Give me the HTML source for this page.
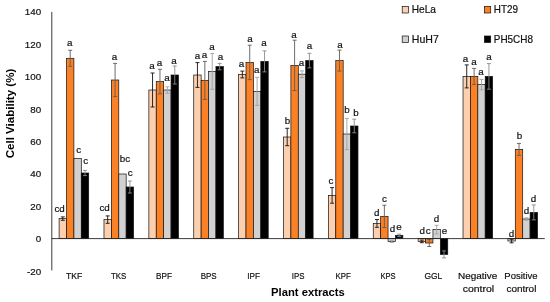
<!DOCTYPE html>
<html lang="en"><head><meta charset="utf-8"><title>Cell viability of plant extracts</title>
<style>
html,body{margin:0;padding:0;background:#fff;}
body{width:550px;height:302px;overflow:hidden;}
svg{display:block;font-family:"Liberation Sans",sans-serif;}
</style></head><body>
<svg width="550" height="302" viewBox="0 0 550 302">
<rect width="550" height="302" fill="#fff"/>
<g>
<g stroke="#111" stroke-width="0.7">
<rect x="59.10" y="218.60" width="7.40" height="20.00" fill="#FCD0AF"/>
<rect x="66.50" y="58.30" width="7.40" height="180.30" fill="#FB8124"/>
<rect x="73.90" y="158.60" width="7.40" height="80.00" fill="#D2D0D0"/>
<rect x="81.30" y="173.00" width="7.40" height="65.60" fill="#000000"/>
<rect x="103.98" y="219.60" width="7.40" height="19.00" fill="#FCD0AF"/>
<rect x="111.38" y="80.00" width="7.40" height="158.60" fill="#FB8124"/>
<rect x="118.78" y="174.00" width="7.40" height="64.60" fill="#D2D0D0"/>
<rect x="126.18" y="187.00" width="7.40" height="51.60" fill="#000000"/>
<rect x="148.86" y="90.00" width="7.40" height="148.60" fill="#FCD0AF"/>
<rect x="156.26" y="81.60" width="7.40" height="157.00" fill="#FB8124"/>
<rect x="163.66" y="90.00" width="7.40" height="148.60" fill="#D2D0D0"/>
<rect x="171.06" y="75.00" width="7.40" height="163.60" fill="#000000"/>
<rect x="193.74" y="75.00" width="7.40" height="163.60" fill="#FCD0AF"/>
<rect x="201.14" y="80.40" width="7.40" height="158.20" fill="#FB8124"/>
<rect x="208.54" y="71.40" width="7.40" height="167.20" fill="#D2D0D0"/>
<rect x="215.94" y="66.60" width="7.40" height="172.00" fill="#000000"/>
<rect x="238.62" y="74.50" width="7.40" height="164.10" fill="#FCD0AF"/>
<rect x="246.02" y="62.40" width="7.40" height="176.20" fill="#FB8124"/>
<rect x="253.42" y="91.40" width="7.40" height="147.20" fill="#D2D0D0"/>
<rect x="260.82" y="61.40" width="7.40" height="177.20" fill="#000000"/>
<rect x="283.50" y="137.00" width="7.40" height="101.60" fill="#FCD0AF"/>
<rect x="290.90" y="65.40" width="7.40" height="173.20" fill="#FB8124"/>
<rect x="298.30" y="74.20" width="7.40" height="164.40" fill="#D2D0D0"/>
<rect x="305.70" y="60.60" width="7.40" height="178.00" fill="#000000"/>
<rect x="328.38" y="195.40" width="7.40" height="43.20" fill="#FCD0AF"/>
<rect x="335.78" y="60.60" width="7.40" height="178.00" fill="#FB8124"/>
<rect x="343.18" y="134.00" width="7.40" height="104.60" fill="#D2D0D0"/>
<rect x="350.58" y="126.00" width="7.40" height="112.60" fill="#000000"/>
<rect x="373.26" y="223.40" width="7.40" height="15.20" fill="#FCD0AF"/>
<rect x="380.66" y="216.40" width="7.40" height="22.20" fill="#FB8124"/>
<rect x="388.06" y="238.60" width="7.40" height="3.00" fill="#D2D0D0"/>
<rect x="395.46" y="235.40" width="7.40" height="3.20" fill="#000000"/>
<rect x="418.14" y="238.60" width="7.40" height="2.80" fill="#FCD0AF"/>
<rect x="425.54" y="238.60" width="7.40" height="4.40" fill="#FB8124"/>
<rect x="432.94" y="229.60" width="7.40" height="9.00" fill="#D2D0D0"/>
<rect x="440.34" y="238.60" width="7.40" height="15.80" fill="#000000"/>
<rect x="463.02" y="76.40" width="7.40" height="162.20" fill="#FCD0AF"/>
<rect x="470.42" y="76.40" width="7.40" height="162.20" fill="#FB8124"/>
<rect x="477.82" y="84.60" width="7.40" height="154.00" fill="#D2D0D0"/>
<rect x="485.22" y="76.40" width="7.40" height="162.20" fill="#000000"/>
<rect x="507.90" y="238.60" width="7.40" height="2.40" fill="#FCD0AF"/>
<rect x="515.30" y="149.40" width="7.40" height="89.20" fill="#FB8124"/>
<rect x="522.70" y="219.00" width="7.40" height="19.60" fill="#D2D0D0"/>
<rect x="530.10" y="212.40" width="7.40" height="26.20" fill="#000000"/>
</g>
<path d="M62.80 216.90V220.30M60.80 216.90h4M60.80 220.30h4" stroke="#111" stroke-width="0.9" fill="none"/>
<path d="M70.20 50.30V66.30M68.20 50.30h4M68.20 66.30h4" stroke="#5c5c5c" stroke-width="0.9" fill="none"/>
<path d="M85.00 170.40V175.60M83.00 170.40h4M83.00 175.60h4" stroke="#8c8c8c" stroke-width="0.9" fill="none"/>
<path d="M107.68 215.90V223.30M105.68 215.90h4M105.68 223.30h4" stroke="#111" stroke-width="0.9" fill="none"/>
<path d="M115.08 63.40V96.60M113.08 63.40h4M113.08 96.60h4" stroke="#5c5c5c" stroke-width="0.9" fill="none"/>
<path d="M129.88 181.00V193.00M127.88 181.00h4M127.88 193.00h4" stroke="#8c8c8c" stroke-width="0.9" fill="none"/>
<path d="M152.56 73.00V107.00M150.56 73.00h4M150.56 107.00h4" stroke="#111" stroke-width="0.9" fill="none"/>
<path d="M159.96 69.30V93.90M157.96 69.30h4M157.96 93.90h4" stroke="#5c5c5c" stroke-width="0.9" fill="none"/>
<path d="M167.36 86.80V93.20M165.36 86.80h4M165.36 93.20h4" stroke="#a0a0a0" stroke-width="0.9" fill="none"/>
<path d="M174.76 66.00V84.00M172.76 66.00h4M172.76 84.00h4" stroke="#8c8c8c" stroke-width="0.9" fill="none"/>
<path d="M197.44 62.60V87.40M195.44 62.60h4M195.44 87.40h4" stroke="#111" stroke-width="0.9" fill="none"/>
<path d="M204.84 61.40V99.40M202.84 61.40h4M202.84 99.40h4" stroke="#5c5c5c" stroke-width="0.9" fill="none"/>
<path d="M212.24 53.50V89.30M210.24 53.50h4M210.24 89.30h4" stroke="#a0a0a0" stroke-width="0.9" fill="none"/>
<path d="M219.64 63.40V69.80M217.64 63.40h4M217.64 69.80h4" stroke="#8c8c8c" stroke-width="0.9" fill="none"/>
<path d="M242.32 71.10V77.90M240.32 71.10h4M240.32 77.90h4" stroke="#111" stroke-width="0.9" fill="none"/>
<path d="M249.72 45.20V79.60M247.72 45.20h4M247.72 79.60h4" stroke="#5c5c5c" stroke-width="0.9" fill="none"/>
<path d="M257.12 77.40V105.40M255.12 77.40h4M255.12 105.40h4" stroke="#a0a0a0" stroke-width="0.9" fill="none"/>
<path d="M264.52 50.90V71.90M262.52 50.90h4M262.52 71.90h4" stroke="#8c8c8c" stroke-width="0.9" fill="none"/>
<path d="M287.20 128.30V145.70M285.20 128.30h4M285.20 145.70h4" stroke="#111" stroke-width="0.9" fill="none"/>
<path d="M294.60 40.20V90.60M292.60 40.20h4M292.60 90.60h4" stroke="#5c5c5c" stroke-width="0.9" fill="none"/>
<path d="M302.00 70.90V77.50M300.00 70.90h4M300.00 77.50h4" stroke="#a0a0a0" stroke-width="0.9" fill="none"/>
<path d="M309.40 53.30V67.90M307.40 53.30h4M307.40 67.90h4" stroke="#8c8c8c" stroke-width="0.9" fill="none"/>
<path d="M332.08 187.60V203.20M330.08 187.60h4M330.08 203.20h4" stroke="#111" stroke-width="0.9" fill="none"/>
<path d="M339.48 50.10V71.10M337.48 50.10h4M337.48 71.10h4" stroke="#5c5c5c" stroke-width="0.9" fill="none"/>
<path d="M346.88 118.40V149.60M344.88 118.40h4M344.88 149.60h4" stroke="#a0a0a0" stroke-width="0.9" fill="none"/>
<path d="M354.28 119.20V132.80M352.28 119.20h4M352.28 132.80h4" stroke="#8c8c8c" stroke-width="0.9" fill="none"/>
<path d="M376.96 219.50V227.30M374.96 219.50h4M374.96 227.30h4" stroke="#111" stroke-width="0.9" fill="none"/>
<path d="M384.36 205.20V227.60M382.36 205.20h4M382.36 227.60h4" stroke="#5c5c5c" stroke-width="0.9" fill="none"/>
<path d="M391.76 240.70V242.50M389.76 240.70h4M389.76 242.50h4" stroke="#a0a0a0" stroke-width="0.9" fill="none"/>
<path d="M399.16 234.20V236.60M397.16 234.20h4M397.16 236.60h4" stroke="#8c8c8c" stroke-width="0.9" fill="none"/>
<path d="M421.84 240.10V242.70M419.84 240.10h4M419.84 242.70h4" stroke="#111" stroke-width="0.9" fill="none"/>
<path d="M429.24 239.50V246.50M427.24 239.50h4M427.24 246.50h4" stroke="#5c5c5c" stroke-width="0.9" fill="none"/>
<path d="M436.64 225.30V233.90M434.64 225.30h4M434.64 233.90h4" stroke="#a0a0a0" stroke-width="0.9" fill="none"/>
<path d="M444.04 250.90V257.90M442.04 250.90h4M442.04 257.90h4" stroke="#8c8c8c" stroke-width="0.9" fill="none"/>
<path d="M466.72 64.90V87.90M464.72 64.90h4M464.72 87.90h4" stroke="#111" stroke-width="0.9" fill="none"/>
<path d="M474.12 68.40V84.40M472.12 68.40h4M472.12 84.40h4" stroke="#5c5c5c" stroke-width="0.9" fill="none"/>
<path d="M481.52 79.40V89.80M479.52 79.40h4M479.52 89.80h4" stroke="#a0a0a0" stroke-width="0.9" fill="none"/>
<path d="M488.92 63.60V89.20M486.92 63.60h4M486.92 89.20h4" stroke="#8c8c8c" stroke-width="0.9" fill="none"/>
<path d="M511.60 239.20V242.80M509.60 239.20h4M509.60 242.80h4" stroke="#111" stroke-width="0.9" fill="none"/>
<path d="M519.00 143.40V155.40M517.00 143.40h4M517.00 155.40h4" stroke="#5c5c5c" stroke-width="0.9" fill="none"/>
<path d="M526.40 217.80V220.20M524.40 217.80h4M524.40 220.20h4" stroke="#a0a0a0" stroke-width="0.9" fill="none"/>
<path d="M533.80 204.90V219.90M531.80 204.90h4M531.80 219.90h4" stroke="#8c8c8c" stroke-width="0.9" fill="none"/>
<path d="M51.8 11.9V270.4M51.8 238.6H544.8" stroke="#262626" stroke-width="0.9" fill="none"/>
<g font-size="9.8" fill="#111" stroke="#111" stroke-width="0.2" text-anchor="middle">
<text x="59.6" y="211.8">cd</text>
<text x="69.8" y="45.9">a</text>
<text x="78.6" y="152.5">c</text>
<text x="85.6" y="164.1">c</text>
<text x="104.6" y="211.4">cd</text>
<text x="114.6" y="59.5">a</text>
<text x="125.0" y="162.4">bc</text>
<text x="130.2" y="176.1">c</text>
<text x="152.0" y="68.5">a</text>
<text x="159.4" y="66.1">a</text>
<text x="167.0" y="81.1">a</text>
<text x="174.0" y="63.5">a</text>
<text x="197.6" y="58.5">a</text>
<text x="204.6" y="57.9">a</text>
<text x="212.0" y="49.5">a</text>
<text x="220.4" y="59.5">a</text>
<text x="241.4" y="66.9">a</text>
<text x="250.0" y="42.1">a</text>
<text x="256.8" y="72.5">a</text>
<text x="264.0" y="45.9">a</text>
<text x="287.4" y="123.8">b</text>
<text x="294.0" y="37.5">a</text>
<text x="301.4" y="65.5">a</text>
<text x="309.6" y="49.1">a</text>
<text x="331.0" y="183.5">c</text>
<text x="340.0" y="47.5">a</text>
<text x="347.0" y="112.8">b</text>
<text x="356.0" y="116.2">b</text>
<text x="376.8" y="216.2">d</text>
<text x="384.5" y="202.0">c</text>
<text x="392.5" y="231.8">d</text>
<text x="399.1" y="230.1">e</text>
<text x="422.3" y="234.4">d</text>
<text x="428.1" y="234.4">c</text>
<text x="436.4" y="222.3">d</text>
<text x="444.6" y="234.4">e</text>
<text x="465.4" y="61.5">a</text>
<text x="474.0" y="64.5">a</text>
<text x="481.0" y="74.5">a</text>
<text x="489.0" y="60.1">a</text>
<text x="511.4" y="237.2">d</text>
<text x="519.6" y="138.8">b</text>
<text x="526.6" y="213.8">d</text>
<text x="533.6" y="202.2">d</text>
</g>
<g font-size="9.8" fill="#111" stroke="#111" stroke-width="0.2" text-anchor="end">
<text x="41.2" y="15.4">140</text>
<text x="41.2" y="47.8">120</text>
<text x="41.2" y="80.2">100</text>
<text x="41.2" y="112.6">80</text>
<text x="41.2" y="145.0">60</text>
<text x="41.2" y="177.4">40</text>
<text x="41.2" y="209.8">20</text>
<text x="41.2" y="242.2">0</text>
<text x="41.2" y="274.6">-20</text>
</g>
<g font-size="9.8" fill="#111" stroke="#111" stroke-width="0.2" text-anchor="middle">
<text x="74.2" y="279.2" textLength="16.3" lengthAdjust="spacingAndGlyphs">TKF</text>
<text x="118.7" y="279.2" textLength="15.3" lengthAdjust="spacingAndGlyphs">TKS</text>
<text x="164" y="279.2" textLength="16" lengthAdjust="spacingAndGlyphs">BPF</text>
<text x="208.7" y="279.2" textLength="16" lengthAdjust="spacingAndGlyphs">BPS</text>
<text x="253.6" y="279.2" textLength="12.7" lengthAdjust="spacingAndGlyphs">IPF</text>
<text x="298.1" y="279.2" textLength="12.7" lengthAdjust="spacingAndGlyphs">IPS</text>
<text x="343.2" y="279.2" textLength="15.2" lengthAdjust="spacingAndGlyphs">KPF</text>
<text x="388" y="279.2" textLength="15.2" lengthAdjust="spacingAndGlyphs">KPS</text>
<text x="433.4" y="279.2" textLength="17.8" lengthAdjust="spacingAndGlyphs">GGL</text>
<text x="477.7" y="279.0" textLength="39.3" lengthAdjust="spacingAndGlyphs">Negative</text>
<text x="478.4" y="292.3" textLength="31.4" lengthAdjust="spacingAndGlyphs">control</text>
<text x="521" y="279.0" textLength="33.3" lengthAdjust="spacingAndGlyphs">Positive</text>
<text x="521.4" y="292.3" textLength="30" lengthAdjust="spacingAndGlyphs">control</text>
</g>
<text x="307.9" y="296.3" font-size="11.6" font-weight="bold" fill="#000" text-anchor="middle" textLength="73.7" lengthAdjust="spacingAndGlyphs">Plant extracts</text>
<text transform="translate(13.8 113.5) rotate(-90)" font-size="11.4" font-weight="bold" fill="#000" text-anchor="middle" textLength="89.5" lengthAdjust="spacingAndGlyphs">Cell Viability (%)</text>
<rect x="402.2" y="6.5" width="6.3" height="6.5" fill="#FCD0AF" stroke="#111" stroke-width="0.7"/>
<text x="411.8" y="13.4" font-size="10.2" fill="#111" stroke="#111" stroke-width="0.2" textLength="24.2" lengthAdjust="spacingAndGlyphs">HeLa</text>
<rect x="484.4" y="6.5" width="6.3" height="6.5" fill="#FB8124" stroke="#111" stroke-width="0.7"/>
<text x="493.8" y="13.4" font-size="10.2" fill="#111" stroke="#111" stroke-width="0.2" textLength="24.2" lengthAdjust="spacingAndGlyphs">HT29</text>
<rect x="402.2" y="36" width="6.3" height="6.5" fill="#D2D0D0" stroke="#111" stroke-width="0.7"/>
<text x="411.8" y="42.9" font-size="10.2" fill="#111" stroke="#111" stroke-width="0.2" textLength="27" lengthAdjust="spacingAndGlyphs">HuH7</text>
<rect x="484.4" y="36" width="6.3" height="6.5" fill="#000000" stroke="#111" stroke-width="0.7"/>
<text x="493.8" y="42.9" font-size="10.2" fill="#111" stroke="#111" stroke-width="0.2" textLength="39.2" lengthAdjust="spacingAndGlyphs">PH5CH8</text>
</g>
</svg>
</body></html>
